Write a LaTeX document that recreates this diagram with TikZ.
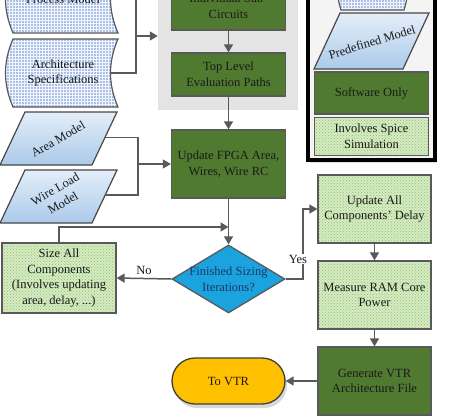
\documentclass[tikz,border=0pt]{standalone}
\usepackage{fontspec}
\setmainfont{Liberation Serif}
\usetikzlibrary{arrows.meta,patterns,shadows,shapes.geometric}
\definecolor{dkgreen}{HTML}{507A30}
\definecolor{ltgreen}{HTML}{D6EBC2}
\definecolor{patgreen}{HTML}{8FC076}
\definecolor{edgegray}{HTML}{595959}
\definecolor{dblue}{HTML}{A9C1E8}
\definecolor{grayreg}{HTML}{E4E4E4}
\definecolor{diamblue}{HTML}{1AA3DE}
\definecolor{vtryellow}{HTML}{FFC000}
\definecolor{navytext}{HTML}{1F3864}
\definecolor{txt}{HTML}{1A1A1A}
\definecolor{lgfill}{HTML}{F4F4F4}
\definecolor{partop}{HTML}{E4EEF9}
\definecolor{parbot}{HTML}{ABCAEA}
\tikzset{
  base/.style={draw=edgegray, line width=1.3pt, align=center, text=txt,
    font=\fontsize{12.5}{15.7}\selectfont, inner sep=1pt},
  greenbox/.style={base, fill=dkgreen, minimum width=114pt},
  lgbox/.style={base, pattern=crosshatch dots, pattern color=patgreen,
    preaction={fill=ltgreen}, minimum width=113pt},
  bluestore/.style={draw=edgegray, line width=1.2pt, pattern=grid,
    pattern color=white!85!dblue, preaction={fill=dblue}},
  para/.style={draw=edgegray!80!black, line width=1.2pt, top color=partop, bottom color=parbot},
  lbl/.style={align=center, text=txt, font=\fontsize{12.5}{15.7}\selectfont, inner sep=1pt},
  conn/.style={draw=edgegray, line width=1.5pt},
  arr/.style={conn, -{Triangle[length=8pt,width=9pt]}},
}
\begin{document}
\begin{tikzpicture}[x=1pt,y=-1pt]
\useasboundingbox (0,0) rectangle (474,416);
\clip (0,0) rectangle (474,416);
\fill[white] (0,0) rectangle (474,416);

% grouping regions
\node[fill=grayreg, minimum width=140pt, minimum height=160pt, inner sep=0pt] (grp) at (228,30) {};
\node[draw=black, line width=3.5pt, fill=lgfill, minimum width=127pt, minimum height=220pt,
  inner sep=0pt, drop shadow={opacity=0.25, shadow xshift=2pt, shadow yshift=-3pt}] (legend) at (371.5,50) {};

% stored data shapes (left column)
\path[bluestore] (13,-35) -- (118,-35) .. controls (108,-12) and (108,10) .. (118,33)
  -- (13,33) .. controls (3,10) and (3,-12) .. (13,-35) -- cycle;
\node[lbl] (proc) at (63,-1) {Process Model};
\coordinate (procE) at (110.5,-1);
\path[bluestore] (13,39) -- (118,39) .. controls (108,62) and (108,84) .. (118,107)
  -- (13,107) .. controls (3,84) and (3,62) .. (13,39) -- cycle;
\node[lbl] (arch) at (63,73) {Architecture\\Specifications};
\coordinate (archE) at (110.5,73);

% parallelograms
\path[para] (25,112) -- (117,112) -- (92,165) -- (0,165) -- cycle;
\node[lbl, rotate=30] (area) at (58,139) {Area Model};
\coordinate (areaE) at (104.5,137.5);
\path[para] (25,170) -- (117,170) -- (92,223) -- (0,223) -- cycle;
\node[lbl, rotate=30] (wire) at (59,196) {Wire Load\\Model};
\coordinate (wireE) at (104.5,195);

% legend contents
\path[bluestore] (341,10) .. controls (336,-5) and (336,-20) .. (341,-40) -- (404,-40)
  .. controls (409,-20) and (409,-5) .. (404,10) -- cycle;
\path[para] (340,13) -- (429,13) -- (403,69) -- (314,69) -- cycle;
\node[lbl, rotate=17] (pred) at (372,42) {Predefined Model};
\node[greenbox, minimum width=114pt, minimum height=42pt] (soft) at (371.5,93) {Software Only};
\node[lgbox, minimum width=114pt, minimum height=38pt] (spice) at (371.5,136.5) {Involves Spice\\Simulation};

% main column
\node[greenbox, minimum height=48pt] (indiv) at (228.5,6) {Individual Sub-\\Circuits};
\node[greenbox, minimum height=43pt] (top) at (228.5,74.5) {Top Level\\Evaluation Paths};
\node[greenbox, minimum height=68pt] (fpga) at (228.5,164) {Update FPGA Area,\\Wires, Wire RC};
\node[diamond, draw=edgegray, line width=1.3pt, fill=diamblue, minimum width=113pt,
  minimum height=68pt, inner sep=0pt] (diam) at (228.5,279) {};
\node[lbl, text=navytext] (diamtxt) at (diam.center) {Finished Sizing\\Iterations?};
\node[lgbox, minimum width=114pt, minimum height=70pt] (size) at (59,278)
  {Size All\\Components\\(Involves updating\\area, delay, ...)};
\node[rectangle, rounded corners=23pt, draw=edgegray!70!black, line width=1.3pt, fill=vtryellow,
  minimum width=113pt, minimum height=46pt, text=txt, font=\fontsize{12.5}{15.7}\selectfont,
  drop shadow={opacity=0.3, shadow xshift=2pt, shadow yshift=-4pt}] (tovtr) at (228.5,381) {To VTR};

% right column
\node[lgbox, minimum height=68pt] (upd) at (374.5,209) {Update All\\Components’ Delay};
\node[lgbox, minimum height=68pt] (meas) at (374.5,295) {Measure RAM Core\\Power};
\node[greenbox, minimum width=113pt, minimum height=68pt] (gen) at (374.5,381) {Generate VTR\\Architecture File};

% connectors
\coordinate (j1) at (136,36);
\draw[conn] (procE) -| (j1);
\draw[conn] (archE) -| (j1);
\draw[arr] (j1) -- (j1 -| grp.west);
\draw[arr] (indiv) -- (top);
\draw[arr] (top) -- (fpga);
\coordinate (j2) at (138,164);
\draw[conn] (areaE) -| (j2);
\draw[conn] (wireE) -| (j2);
\draw[arr] (j2) -- (fpga.west);
\draw[arr] (fpga) -- (diam.north);
\coordinate (jloop) at (228.5,227);
\draw[arr] (size.north) |- (jloop);
\draw[arr] (diam.west) -- (size.east) node[midway, above=2pt, lbl] (no) {No};
\coordinate (jy) at (303,279);
\draw[arr] (diam.east) -- (jy) |- (upd.west);
\node[lbl, fill=white, inner sep=0.5pt] (yes) at (298,259) {Yes};
\draw[arr] (upd) -- (meas);
\draw[arr] (meas) -- (gen);
\draw[arr] (gen) -- (tovtr);
\end{tikzpicture}
\end{document}
